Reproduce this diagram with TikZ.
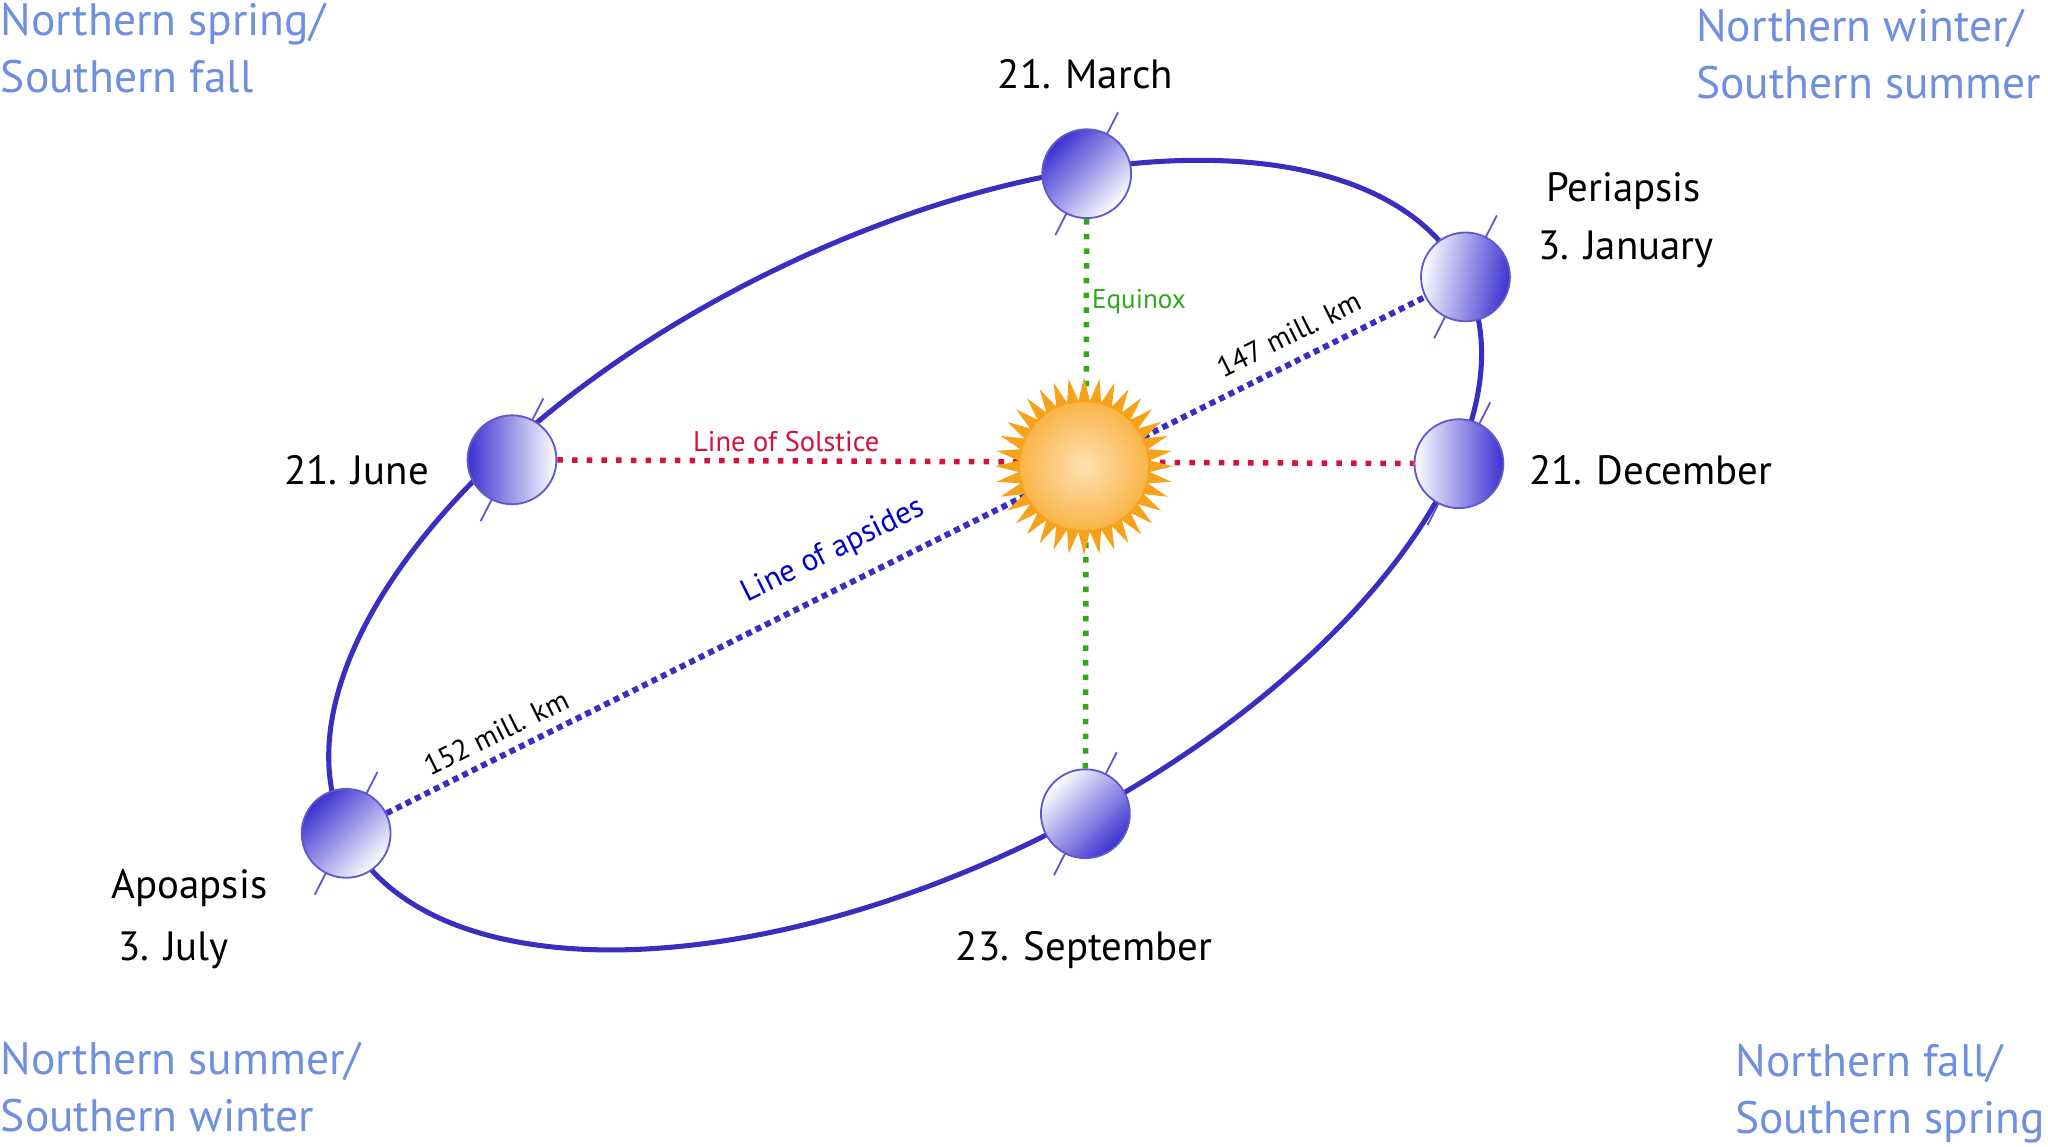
\documentclass[tikz,border=0pt]{standalone}
\usepackage{fontspec}
\setmainfont{PT Sans}
\usetikzlibrary{shapes.geometric}
\definecolor{orbitblue}{HTML}{3A2EC0}
\definecolor{seasonblue}{HTML}{6F8FE0}
\definecolor{planetdark}{HTML}{3A32D0}
\definecolor{solred}{HTML}{D8103C}
\definecolor{eqgreen}{HTML}{30A818}
\definecolor{sunorange}{HTML}{F7A21B}
\tikzset{
  planet/.style={circle,draw=orbitblue!80,thin,minimum size=0.68cm,inner sep=0pt,
    shading=axis,left color=planetdark,right color=white,shading angle=#1},
  axisline/.style={draw=orbitblue!80,thin},
  season/.style={text=seasonblue,align=left,font=\fontsize{9.9}{12.4}\selectfont,inner sep=0pt},
  datelabel/.style={font=\fontsize{8.9}{11}\selectfont,inner sep=0pt},
  smalllabel/.style={font=\fontsize{5.9}{7}\selectfont,inner sep=1pt}
}
\begin{document}
\begin{tikzpicture}[x=0.01cm,y=-0.01cm]
  \useasboundingbox (0,0) rectangle (1568,878);
  % orbit
  \draw[orbitblue,line width=1.1pt,rotate around={26.4:(693,425)}] (693,425) ellipse [x radius=478,y radius=240];
  % planets with axes
  \foreach \name/\x/\y/\ang in {march/832/133/45, peri/1122/212/-100, dec/1117/355/-90,
      sept/831/623/-135, july/265/638/45, june/392/352/90} {
    \draw[axisline] (\x,\y) ++(-24,47) -- ++(48,-94);
    \node[planet=\ang] (\name) at (\x,\y) {};
  }
  % lines
  \draw[eqgreen,line width=1.2pt,dotted] (march) -- (sept);
  \draw[solred,line width=1.2pt,dotted] (june) -- (dec);
  \draw[orbitblue,line width=1.3pt,densely dotted] (july) -- (peri);
  % sun
  \node[star,star points=36,star point ratio=1.35,fill=sunorange,minimum size=1.36cm,inner sep=0pt] (sunrays) at (830,357) {};
  \node[circle,minimum size=0.98cm,inner sep=0pt,inner color=yellow!20!orange!30,outer color=sunorange!80] (sun) at (830,357) {};
  % line labels
  \node[smalllabel,text=eqgreen] (eqlabel) at (872,231) {Equinox};
  \node[smalllabel,text=solred,font=\fontsize{6.2}{7}\selectfont] (sollabel) at (602,338) {Line of Solstice};
  \node[smalllabel,text=blue!80!black,font=\fontsize{6.8}{8}\selectfont,rotate=26.4] (apslabel) at (638,422) {Line of apsides};
  \node[smalllabel,font=\fontsize{6.3}{7}\selectfont,rotate=26.4] (perilabel) at (987,256) {147 mill. km};
  \node[smalllabel,font=\fontsize{6.3}{7}\selectfont,rotate=26.4] (aplabel) at (380,561) {152 mill. km};
  % dates
  \node[datelabel] (marchlabel) at (831,57) {21. March};
  \node[datelabel] (perilabelA) at (1243,146) {Periapsis};
  \node[datelabel] (perilabelB) at (1245,191) {3. January};
  \node[datelabel,anchor=west] (declabel) at (1170,360) {21. December};
  \node[datelabel] (septlabel) at (830,727) {23. September};
  \node[datelabel] (julylabelA) at (145,680) {Apoapsis};
  \node[datelabel] (julylabelB) at (133,728) {3. July};
  \node[datelabel] (junelabel) at (273,360) {21. June};
  % seasons
  \node[season,anchor=north west] (nw) at (0,2) {Northern spring/\\Southern fall};
  \node[season,anchor=north west] (ne) at (1298,6) {Northern winter/\\Southern summer};
  \node[season,anchor=north west] (sw) at (0,797) {Northern summer/\\Southern winter};
  \node[season,anchor=north west] (se) at (1328,799) {Northern fall/\\Southern spring};
\end{tikzpicture}
\end{document}
